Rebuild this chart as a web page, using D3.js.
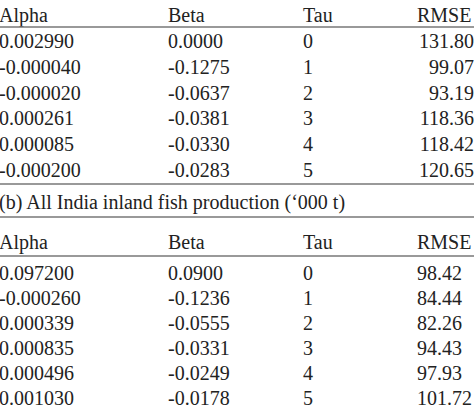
<!DOCTYPE html>
<html><head><meta charset="utf-8">
<script src="https://cdn.jsdelivr.net/npm/d3@7"></script>
<style>body{margin:0;background:#fff}text{font-family:"Liberation Serif","Times New Roman",serif;font-size:20px;fill:#222}</style>
</head><body><svg id="c" width="474" height="410"></svg>
<script>
var headers = ["Alpha", "Beta", "Tau", "RMSE"];
var alphaA = ["0.002990", "-0.000040", "-0.000020", "0.000261", "0.000085", "-0.000200"];
var betaA = ["0.0000", "-0.1275", "-0.0637", "-0.0381", "-0.0330", "-0.0283"];
var tauA = ["0", "1", "2", "3", "4", "5"];
var rmseA = ["131.80", "99.07", "93.19", "118.36", "118.42", "120.65"];
var captionB = "(b) All India inland fish production (\u2018000 t)";
var alphaB = ["0.097200", "-0.000260", "0.000339", "0.000835", "0.000496", "0.001030"];
var betaB = ["0.0900", "-0.1236", "-0.0555", "-0.0331", "-0.0249", "-0.0178"];
var tauB = ["0", "1", "2", "3", "4", "5"];
var rmseB = ["98.42", "84.44", "82.26", "94.43", "97.93", "101.72"];

var svg = d3.select("#c");
var colX = d3.scaleOrdinal().domain(headers).range([-1, 168, 303, 417]);

function hline(y) {
  svg.append("line").attr("x1", 0).attr("x2", 474).attr("y1", y).attr("y2", y)
    .attr("stroke", "#777").attr("stroke-width", 1.5);
}

function section(headY, lineY, rowTop, rowBottom, cols, rmseRight) {
  var y = d3.scaleBand().domain(d3.range(cols[0].length)).range([rowTop, rowBottom]);
  svg.selectAll(null).data(headers).enter().append("text")
    .attr("x", function(d) { return colX(d); }).attr("y", headY).attr("dy", "0.35em").text(function(d) { return d; });
  hline(lineY);
  cols.forEach(function(vals, ci) {
    var right = ci === 3 && rmseRight;
    svg.selectAll(null).data(vals).enter().append("text")
      .attr("x", right ? 474 : colX(headers[ci]))
      .attr("text-anchor", right ? "end" : "start")
      .attr("y", function(d, i) { return y(i) + y.bandwidth() / 2; })
      .attr("dy", "0.35em").text(function(d) { return d; });
  });
}

section(15, 27, 28, 183, [alphaA, betaA, tauA, rmseA], true);
hline(184);
svg.append("text").attr("x", -1).attr("y", 202).attr("dy", "0.35em").text(captionB);
hline(217);
section(242, 256, 260, 411, [alphaB, betaB, tauB, rmseB], false);
</script></body></html>
